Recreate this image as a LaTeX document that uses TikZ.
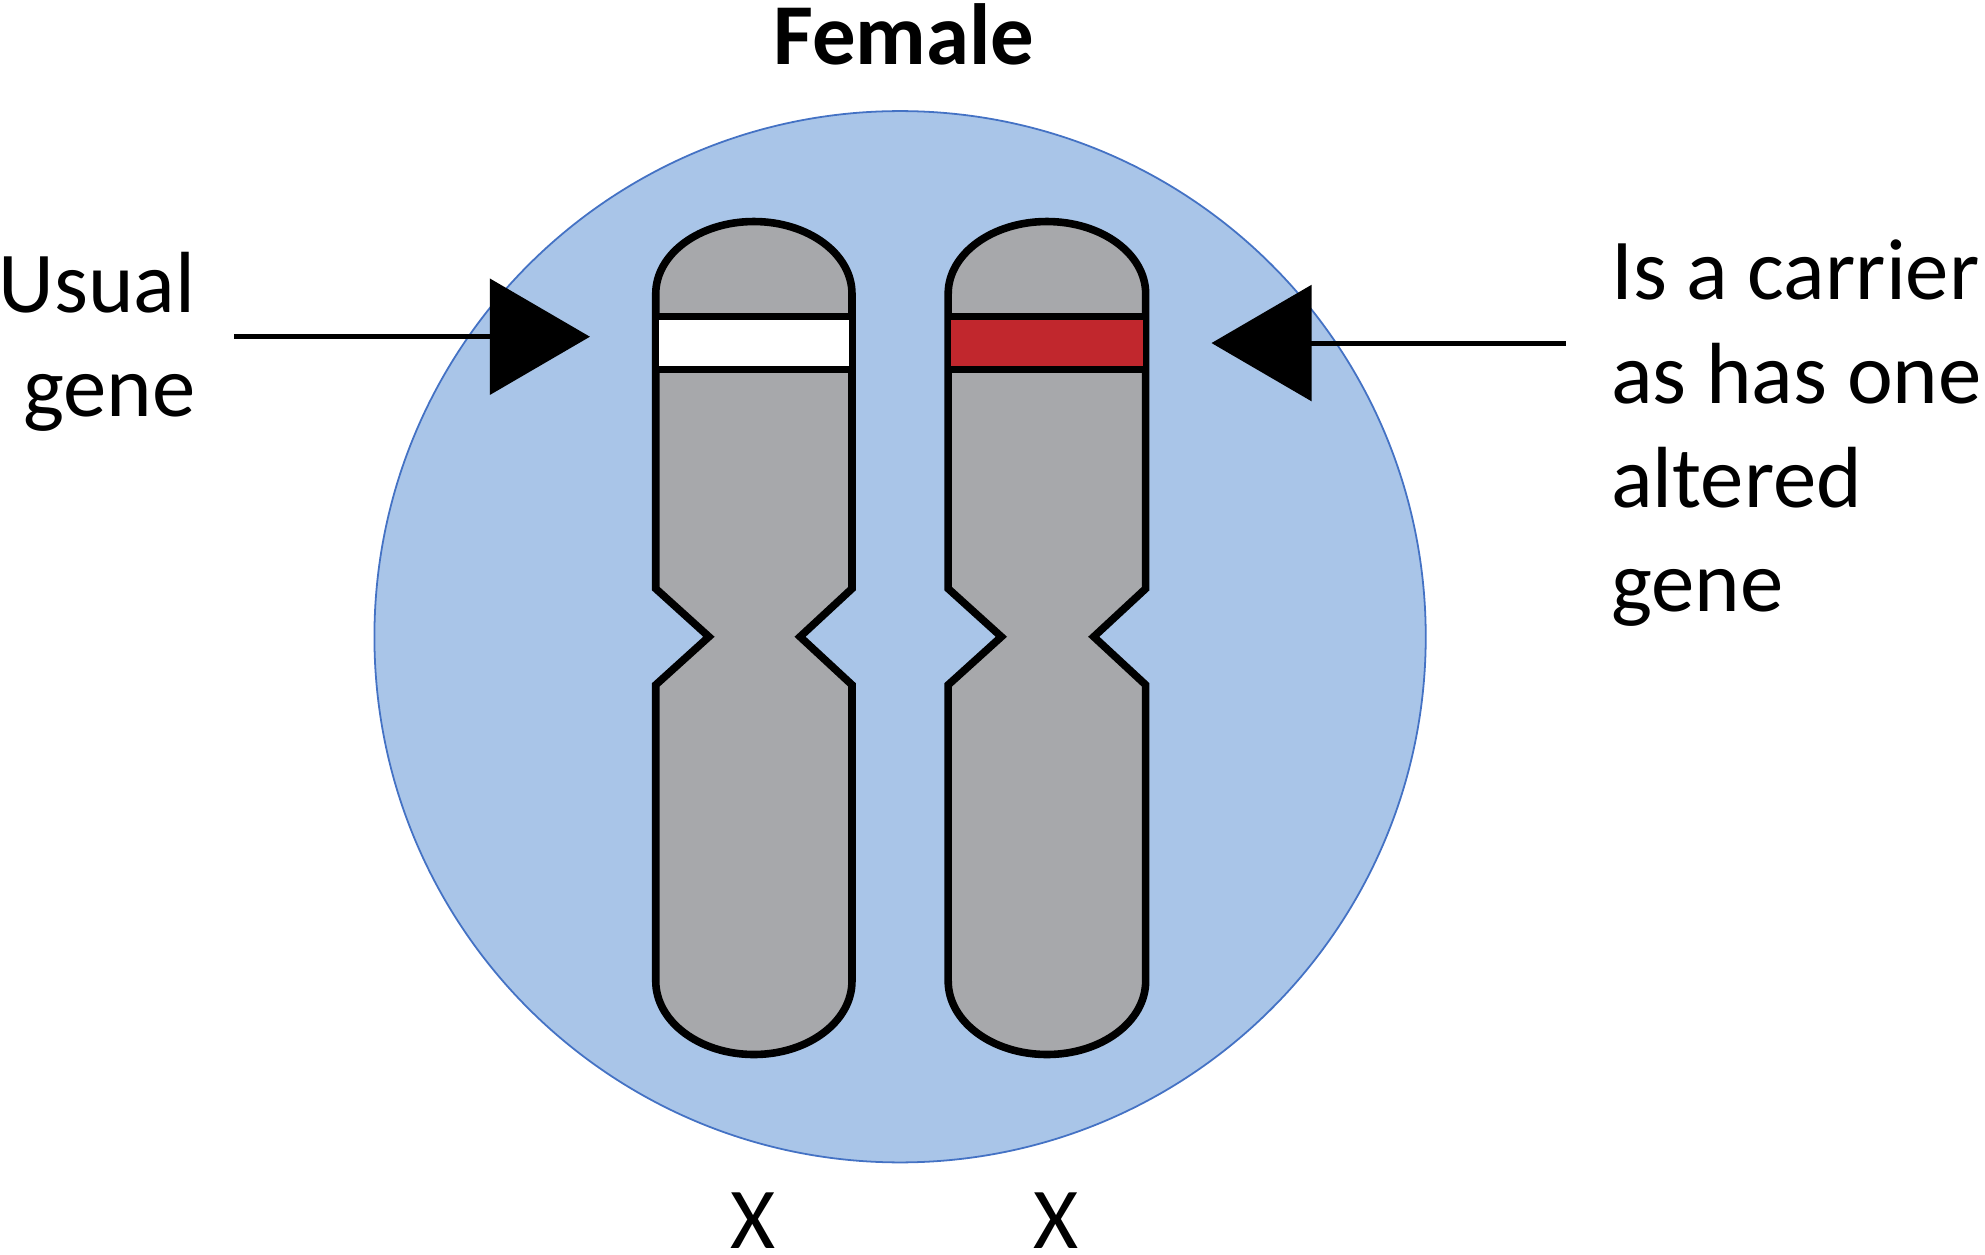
\documentclass[tikz,border=0pt]{standalone}
\usepackage{fontspec}
\setmainfont{Carlito}
\usetikzlibrary{arrows.meta}
\definecolor{cellblue}{HTML}{A9C5E8}
\definecolor{cellline}{HTML}{4472C4}
\definecolor{chromgrey}{HTML}{A7A8AB}
\definecolor{genered}{HTML}{C1272D}
\tikzstyle{label} = [font=\fontsize{19.5}{23.3}\selectfont, inner sep=0pt]
\tikzstyle{chromo} = [draw=black, fill=chromgrey, line width=0.06cm, line join=miter]
\tikzstyle{line} = [draw, line width=0.04cm, -{Triangle[length=0.79cm,width=0.91cm]}]
\newcommand{\chromosome}[2]{% left x, right x
  \path [chromo] (#1,216) -- (#1,450) -- (#1+42,488) -- (#1,526) -- (#1,759)
    arc (180:0:{(#2-#1)/2} and 57) -- (#2,526) -- (#2-41,488) -- (#2,450) -- (#2,216)
    arc (0:-180:{(#2-#1)/2} and 58) -- cycle;}
\begin{document}
\begin{tikzpicture}[x=0.01cm, y=0.01cm]
            \useasboundingbox (0,0) rectangle (1568,991);
            
            % Cell
            \node (cell) [circle, draw=cellline, fill=cellblue, minimum size=8.3cm, inner sep=0pt, line width=0.4pt] at (711,488) {};
            
            % Chromosomes
            \chromosome{518}{673}
            \chromosome{749}{905}
            \draw [line width=0.05cm, fill=white] (518,741) rectangle (673,699);
            \draw [line width=0.05cm, fill=genered] (749,741) rectangle (905,699);
            
            % Labels
            \node (title) [label, font=\fontsize{19.5}{23.3}\selectfont\bfseries] at (714,964) {Female};
            \node (usual) [label, align=right, anchor=east] at (155,721) {Usual\\gene};
            \node (carrier) [label, align=left, anchor=north west] at (1272,802) {Is a carrier\\as has one\\altered\\gene};
            \node (xa) [label, anchor=south] at (595,4) {X};
            \node (xb) [label, anchor=south] at (834,4) {X};
            
            % Arrows
            \coordinate (usual_tail) at (185,725);
            \coordinate (usual_tip) at (466,725);
            \coordinate (carrier_tail) at (1237,720);
            \coordinate (carrier_tip) at (957,720);
            \path [line] (usual_tail) -- (usual_tip);
            \path [line] (carrier_tail) -- (carrier_tip);
\end{tikzpicture}
\end{document}
